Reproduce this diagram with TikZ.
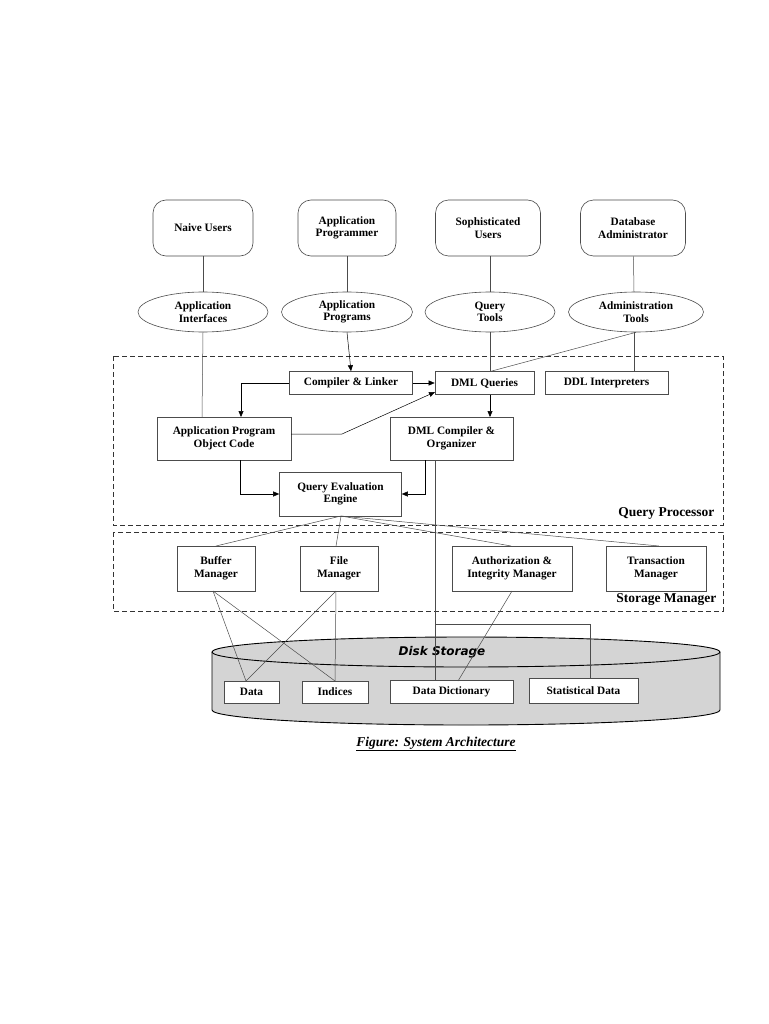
\documentclass[tikz,border=0pt]{standalone}
\usepackage{fontspec}
\setmainfont{Liberation Serif}
\newfontfamily\handf{DejaVu Sans}
\usetikzlibrary{shapes.geometric,arrows.meta}
\begin{document}
\begin{tikzpicture}[x=1pt,y=-1pt,
  txt/.style={font=\fontsize{11.3}{12.5}\selectfont\bfseries,align=center},
  box/.style={draw=black!70,line width=0.6pt,fill=white,txt,minimum width=#1,inner sep=1pt},
  user/.style={box=#1,rounded corners=13pt,minimum height=56},
  ell/.style={draw=black!70,line width=0.6pt,ellipse,txt,minimum width=#1,minimum height=40,inner sep=0pt},
  ln/.style={draw=black!70,line width=0.5pt},
  arr/.style={ln,-{Triangle[length=6pt,width=5pt]},black},
  grp/.style={draw=black!80,dash pattern=on 5pt off 3pt,line width=0.9pt}]
\useasboundingbox (0,0) rectangle (768,1024);
% users
\node[user=100] (nu) at (203,228) {Naive Users};
\node[user=98] (ap) at (347,228) {Application\\Programmer};
\node[user=105] (su) at (488,228) {Sophisticated\\Users};
\node[user=105] (da) at (633,228) {Database\\Administrator};
\node[ell=130] (ai) at (203,312) {Application\\Interfaces};
\node[ell=131] (apg) at (347,312) {Application\\Programs};
\node[ell=130] (qt) at (490,312) {Query\\Tools};
\node[ell=135] (at) at (636,312) {Administration\\Tools};
\draw[ln] (nu) -- (ai); \draw[ln] (ap) -- (apg); \draw[ln] (490,256) -- (qt); \draw[ln] (da) -- (634,292);
% groups
\draw[grp] (113,356) rectangle (723,525);
\node[txt,font=\fontsize{13.5}{14}\selectfont\bfseries,anchor=south east] (qpl) at (718,523) {Query Processor};
\draw[grp] (113,532) rectangle (723,611);
\node[txt,font=\fontsize{13.5}{14}\selectfont\bfseries,anchor=south east] (sml) at (720,609) {Storage Manager};
% query processor boxes
\node[box=123,minimum height=23] (cl) at (351,383) {Compiler \& Linker};
\node[box=99,minimum height=23] (dq) at (484.5,383) {DML Queries};
\node[box=123,minimum height=23] (ddl) at (606.5,383) {DDL Interpreters};
\node[box=134,minimum height=43] (oc) at (224,438.5) {Application Program\\Object Code};
\node[box=123,minimum height=43] (dc) at (451.5,438.5) {DML Compiler \&\\Organizer};
\node[box=122,minimum height=44] (qe) at (340.5,494) {Query Evaluation\\Engine};
\coordinate (qeb) at (341,516);
% connectors
\draw[arr] (apg.south) -- (cl.north);
\draw[ln] (ai.south) -- (202,417);
\draw[arr] (cl.west) -| (241,417);
\draw[arr] (cl.east) -- (dq.west);
\draw[arr] (291,434) -- (342,434) -- (435,392);
\draw[arr] (490,394.5) -- (490,417);
\draw[ln] (qt.south) -- (490,371.5);
\draw[ln] (at.south) -- (490,371.5);
\draw[ln] (634,332) -- (634,371.5);
\draw[arr] (240,460) |- (qe.west);
\draw[arr] (425,460) |- (qe.east);
% storage manager
\node[box=78,minimum height=45] (bm) at (216,568.5) {Buffer\\Manager};
\node[box=78,minimum height=45] (fm) at (339,568.5) {File\\Manager};
\node[box=120,minimum height=45] (am) at (512,568.5) {Authorization \&\\Integrity Manager};
\node[box=100,minimum height=45] (tm) at (656,568.5) {Transaction\\Manager};
\draw[ln] (qeb) -- (216,546);
\draw[ln] (qeb) -- (336,546);
\draw[ln] (qeb) -- (511,546);
\draw[ln] (qeb) -- (659,546);
% disk
\draw[line width=0.9pt,black,fill=black!17] (212,652) -- (212,710) arc[start angle=180,end angle=0,x radius=254,y radius=15] -- (720,652);
\draw[line width=0.9pt,black,fill=black!17] (466,652) ellipse[x radius=254,y radius=15];
\node[font=\handf\bfseries\itshape\fontsize{12}{13}\selectfont] (ds) at (442,652) {Disk Storage};
\node[box=55,minimum height=22] (d) at (251.5,692) {Data};
\node[box=66,minimum height=22] (ix) at (335,692) {Indices};
\node[box=123,minimum height=23] (dd) at (451.5,692) {Data Dictionary};
\node[box=109,minimum height=25] (sd) at (583.5,691) {Statistical Data};
\draw[ln] (213,591) -- (246,681);
\draw[ln] (213,591) -- (335,681);
\draw[ln] (336,591) -- (335,681);
\draw[ln] (336,591) -- (246,681);
\draw[ln] (512,591) -- (458,681);
\draw[ln] (435,460) -- (435,680.5);
\draw[ln] (435,624) -- (590,624) -- (590,678.5);
\node[font=\fontsize{13.5}{14}\selectfont\bfseries\itshape] (cap) at (436,744) {\underline{Figure: System Architecture}};
\end{tikzpicture}
\end{document}
